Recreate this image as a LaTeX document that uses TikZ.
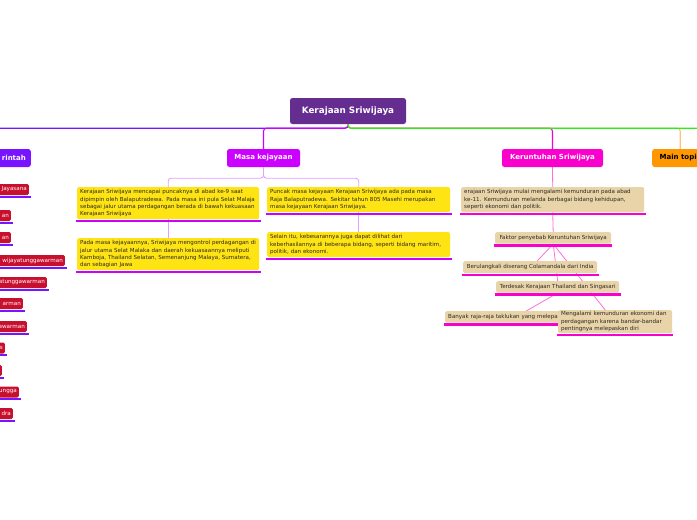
\documentclass[tikz,border=0pt]{standalone}
\usepackage{fontspec}
\setmainfont{DejaVu Sans}
\usetikzlibrary{positioning,backgrounds}
\definecolor{akarc}{RGB}{102,45,145}
\definecolor{rajac}{RGB}{120,20,255}
\definecolor{jayac}{RGB}{204,0,255}
\definecolor{jayamuda}{RGB}{228,160,255}
\definecolor{runtuhc}{RGB}{250,0,204}
\definecolor{runtuhmuda}{RGB}{255,110,220}
\definecolor{topikc}{RGB}{255,152,0}
\definecolor{topikmuda}{RGB}{255,195,120}
\definecolor{hijau}{RGB}{40,240,20}
\definecolor{merah}{RGB}{200,16,46}
\definecolor{kuning}{RGB}{255,228,20}
\definecolor{krem}{RGB}{232,212,168}
\definecolor{teks}{RGB}{45,40,35}

\begin{document}
\begin{tikzpicture}[x=1pt,y=-1pt,
  judul/.style={rounded corners=2.5pt,text=white,font=\fontsize{7}{8}\selectfont\bfseries,minimum height=18pt,inner sep=0pt},
  kotak/.style={anchor=north west,rounded corners=1.5pt,text=teks,font=\fontsize{5.55}{7.3}\selectfont,execute at begin node={\hyphenpenalty=10000\relax},inner xsep=3pt,inner ysep=0pt},
  raja/.style={anchor=east,fill=merah,rounded corners=1.5pt,text=white,font=\fontsize{5.6}{6.5}\selectfont,minimum height=11pt,inner xsep=2pt,inner ysep=0pt,text width=150pt,align=right},
  cabang/.style={line width=1.1pt,rounded corners=3pt},
  ranting/.style={line width=0.8pt,draw=runtuhmuda}]
\useasboundingbox (0,0) rectangle (697,520);
\begin{scope}[on background layer]
\fill[white] (0,0) rectangle (697,520);
\end{scope}
\clip (0,0) rectangle (697,520);

\node[judul,fill=akarc,minimum width=116pt,minimum height=26pt,font=\fontsize{8.8}{10}\selectfont\bfseries] (akar) at (348,111) {Kerajaan Sriwijaya};
\node[judul,fill=rajac,anchor=east,text width=96pt,align=right,inner xsep=5pt] (rin) at (31,158) {rintah};
\node[judul,fill=jayac,minimum width=73pt] (mk) at (263.5,158) {Masa kejayaan};
\node[judul,fill=runtuhc,minimum width=101pt] (kr) at (552.5,158) {Keruntuhan Sriwijaya};
\node[judul,fill=topikc,text=black,anchor=west,minimum width=56pt] (mt) at (652,158) {Main topic};
\coordinate (timur) at (760,158);

\draw[cabang,rajac] (akar.south) -- ++(0,4) -| (rin.north);
\draw[cabang,jayac] (akar.south) -- ++(0,4) -| (mk.north);
\draw[cabang,runtuhc] (akar.south) -- ++(0,4) -| (kr.north);
\draw[cabang,topikmuda] (akar.south) -- ++(0,4) -| (mt.north);
\draw[cabang,hijau] (akar.south) -- ++(0,4) -| (timur);

\node[kotak,fill=kuning,text width=176pt,minimum height=32pt,align=left] (a1) at (77,187) {Kerajaan Sriwijaya mencapai puncaknya di abad ke-9 saat\\dipimpin oleh Balaputradewa. Pada masa ini pula Selat Malaja\\sebagai jalur utama perdagangan berada di bawah kekuasaan\\Kerajaan Sriwijaya};
\node[kotak,fill=kuning,text width=176pt,minimum height=32pt,align=left] (a2) at (77,238) {Pada masa kejayaannya, Sriwijaya mengontrol perdagangan di\\jalur utama Selat Malaka dan daerah kekuasaannya meliputi\\Kamboja, Thailand Selatan, Semenanjung Malaya, Sumatera,\\dan sebagian Jawa};
\node[kotak,fill=kuning,text width=177pt,minimum height=25pt,align=left] (c1) at (267,187) {Puncak masa kejayaan Kerajaan Sriwijaya ada pada masa\\Raja Balaputradewa. Sekitar tahun 805 Masehi merupakan\\masa kejayaan Kerajaan Sriwijaya.};
\node[kotak,fill=kuning,text width=177pt,minimum height=25pt,align=left] (c2) at (267,232) {Selain itu, kebesarannya juga dapat dilihat dari\\keberhasilannya di beberapa bidang, seperti bidang maritim,\\politik, dan ekonomi.};

\draw[cabang,jayamuda,line width=0.9pt] (mk.south) -- ++(0,11) -| (a1.north);
\draw[cabang,jayamuda,line width=0.9pt] (mk.south) -- ++(0,11) -| (c1.north);
\draw[line width=0.8pt,jayamuda] (a1.south) -- (a2.north);
\draw[line width=0.8pt,jayamuda] (c1.south) -- (c2.north);
\draw[line width=2.5pt,jayac] ([xshift=-1pt,yshift=-1.6pt]a1.south west) -- ([xshift=2pt,yshift=-1.6pt]a1.south east);
\draw[line width=2.5pt,jayac] ([xshift=-1pt,yshift=-1.6pt]a2.south west) -- ([xshift=2pt,yshift=-1.6pt]a2.south east);
\draw[line width=2.5pt,jayac] ([xshift=-1pt,yshift=-1.6pt]c1.south west) -- ([xshift=2pt,yshift=-1.6pt]c1.south east);
\draw[line width=2.5pt,jayac] ([xshift=-1pt,yshift=-1.6pt]c2.south west) -- ([xshift=2pt,yshift=-1.6pt]c2.south east);

\node[kotak,fill=krem,text width=177pt,minimum height=25pt,align=left] (e) at (461,187) {erajaan Sriwijaya mulai mengalami kemunduran pada abad\\ke-11. Kemunduran melanda berbagai bidang kehidupan,\\seperti ekonomi dan politik.};
\node[kotak,fill=krem,minimum width=116pt,minimum height=11.5pt] (f) at (495,232) {Faktor penyebab Keruntuhan Sriwijaya};
\node[kotak,fill=krem,minimum width=134pt,minimum height=12pt] (g) at (463,261) {Berulangkali diserang Colamandala dari India};
\node[kotak,fill=krem,minimum width=123pt,minimum height=11.5pt] (h) at (496,281) {Terdesak Kerajaan Thailand dan Singasari};
\node[kotak,fill=krem,text width=156pt,minimum height=11.5pt,align=left] (i) at (445,311) {Banyak raja-raja taklukan yang melepa};
\draw[line width=2.5pt,runtuhc] ([xshift=-1pt,yshift=-1.6pt]e.south west) -- ([xshift=2pt,yshift=-1.6pt]e.south east);
\draw[line width=2.5pt,runtuhc] ([xshift=-1pt,yshift=-1.6pt]f.south west) -- ([xshift=1pt,yshift=-1.6pt]f.south east);
\draw[line width=2.5pt,runtuhc] ([xshift=-1pt,yshift=-1.6pt]g.south west) -- ([xshift=2pt,yshift=-1.6pt]g.south east);
\draw[line width=2.5pt,runtuhc] ([xshift=-1pt,yshift=-1.6pt]h.south west) -- ([xshift=2pt,yshift=-1.6pt]h.south east);
\draw[line width=2.5pt,runtuhc] ([xshift=-1pt,yshift=-1.6pt]i.south west) -- ([xshift=2pt,yshift=-1.6pt]i.south east);
\node[kotak,fill=krem,text width=108pt,minimum height=23pt,align=left] (j) at (558,310) {Mengalami kemunduran ekonomi dan\\perdagangan karena bandar-bandar\\pentingnya melepaskan diri};
\draw[line width=2.5pt,runtuhc] ([xshift=-1pt,yshift=-1.6pt]j.south west) -- ([xshift=1pt,yshift=-1.6pt]j.south east);

\begin{scope}[on background layer]
\draw[ranting] (kr.south) -- (e.north);
\draw[ranting] (e.south) -- (f.north);
\draw[ranting] (f.south) -- ([xshift=7pt]g.north);
\draw[ranting] (f.south) -- (h.north);
\draw[ranting] (f.south) -- ([xshift=-10pt]j.north);
\draw[ranting] (h.south) -- (i.north);
\end{scope}

\node[raja] (k1) at (29,189.5) {Jayasana};
\node[raja] (k2) at (11,215.5) {an};
\node[raja] (k3) at (11,237.5) {an};
\node[raja] (k4) at (65,260.5) {wijayatunggawarman};
\node[raja] (k5) at (47,282.5) {atunggawarman};
\node[raja] (k6) at (23,303.5) {arman};
\node[raja] (k7) at (27,326.5) {awarman};
\node[raja] (k8) at (5,348) {s};
\node[raja] (k9) at (2,370.5) {};
\node[raja] (k10) at (19,392) {ungga};
\node[raja] (k11) at (13,413.5) {dra};
\draw[line width=2.2pt,rajac] ([yshift=-1.4pt]k1.south west) -- ([xshift=2pt,yshift=-1.4pt]k1.south east);
\draw[line width=2.2pt,rajac] ([yshift=-1.4pt]k2.south west) -- ([xshift=2pt,yshift=-1.4pt]k2.south east);
\draw[line width=2.2pt,rajac] ([yshift=-1.4pt]k3.south west) -- ([xshift=2pt,yshift=-1.4pt]k3.south east);
\draw[line width=2.2pt,rajac] ([yshift=-1.4pt]k4.south west) -- ([xshift=2pt,yshift=-1.4pt]k4.south east);
\draw[line width=2.2pt,rajac] ([yshift=-1.4pt]k5.south west) -- ([xshift=2pt,yshift=-1.4pt]k5.south east);
\draw[line width=2.2pt,rajac] ([yshift=-1.4pt]k6.south west) -- ([xshift=2pt,yshift=-1.4pt]k6.south east);
\draw[line width=2.2pt,rajac] ([yshift=-1.4pt]k7.south west) -- ([xshift=2pt,yshift=-1.4pt]k7.south east);
\draw[line width=2.2pt,rajac] ([yshift=-1.4pt]k8.south west) -- ([xshift=2pt,yshift=-1.4pt]k8.south east);
\draw[line width=2.2pt,rajac] ([yshift=-1.4pt]k9.south west) -- ([xshift=2pt,yshift=-1.4pt]k9.south east);
\draw[line width=2.2pt,rajac] ([yshift=-1.4pt]k10.south west) -- ([xshift=2pt,yshift=-1.4pt]k10.south east);
\draw[line width=2.2pt,rajac] ([yshift=-1.4pt]k11.south west) -- ([xshift=2pt,yshift=-1.4pt]k11.south east);
\end{tikzpicture}
\end{document}
